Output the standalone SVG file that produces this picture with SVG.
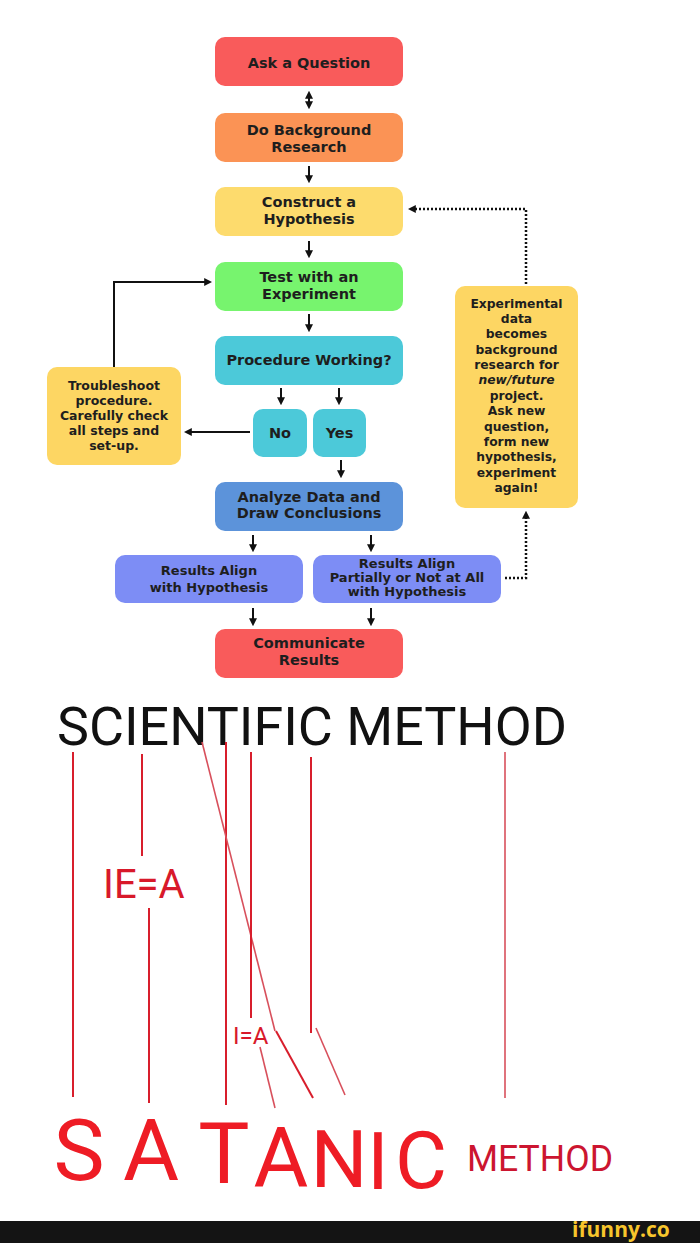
<svg xmlns="http://www.w3.org/2000/svg" width="700" height="1243" viewBox="0 0 700 1243">
<defs>
<marker id="ah" viewBox="0 0 10 10" refX="1" refY="5" markerWidth="8" markerHeight="8" markerUnits="userSpaceOnUse" orient="auto-start-reverse"><path d="M0,0 L10,5 L0,10 z" fill="#111"/></marker>
</defs>
<style>
.t{font-family:"DejaVu Sans",Verdana,sans-serif;font-weight:bold;fill:#1e1e1e;text-anchor:middle}
.m{font-size:14.5px}
.s{font-size:12.5px}
.x{font-size:13px}
.e{font-size:12.3px}
.c{stroke:#111;stroke-width:2;fill:none}
.a{stroke:#111;stroke-width:2;fill:none;marker-end:url(#ah)}
.d{stroke:#111;stroke-width:2.5;fill:none;stroke-dasharray:2 2;marker-end:url(#ah)}
.r{stroke:#d81e2c;stroke-width:2;fill:none}
.rf{stroke:#d8505c;stroke-width:1.6;fill:none}
.big{font-family:Roboto,"Liberation Sans",sans-serif}
.sat{font-family:Roboto,"Liberation Sans",sans-serif;fill:#ee1c25;text-anchor:middle}
</style>
<rect width="700" height="1243" fill="#fff"/>

<g id="ask"><rect x="215" y="37" width="188" height="49" rx="10" fill="#f95b5b"/><text class="t m" x="309" y="68">Ask a Question</text></g>
<g id="background"><rect x="215" y="113" width="188" height="49" rx="10" fill="#fb9355"/><text class="t m" x="309" y="135">Do Background</text><text class="t m" x="309" y="152">Research</text></g>
<g id="hypothesis"><rect x="215" y="187" width="188" height="49" rx="10" fill="#fddb6d"/><text class="t m" x="309" y="207">Construct a</text><text class="t m" x="309" y="224">Hypothesis</text></g>
<g id="test"><rect x="215" y="262" width="188" height="49" rx="10" fill="#77f46e"/><text class="t m" x="309" y="282">Test with an</text><text class="t m" x="309" y="299">Experiment</text></g>
<g id="procedure"><rect x="215" y="336" width="188" height="49" rx="10" fill="#4cc9d9"/><text class="t m" x="309" y="365">Procedure Working?</text></g>
<g id="no"><rect x="253" y="409" width="54" height="48" rx="10" fill="#4cc9d9"/><text class="t m" x="280" y="438">No</text></g>
<g id="yes"><rect x="313" y="409" width="53" height="48" rx="10" fill="#4cc9d9"/><text class="t m" x="339.5" y="438">Yes</text></g>
<g id="troubleshoot"><rect x="47" y="367" width="134" height="98" rx="10" fill="#fdd663"/>
<text class="t s" x="114" y="390">Troubleshoot</text><text class="t s" x="114" y="405">procedure.</text><text class="t s" x="114" y="420">Carefully check</text><text class="t s" x="114" y="435">all steps and</text><text class="t s" x="114" y="450">set-up.</text></g>
<g id="analyze"><rect x="215" y="482" width="188" height="49" rx="10" fill="#5c93da"/><text class="t m" x="309" y="502">Analyze Data and</text><text class="t m" x="309" y="518">Draw Conclusions</text></g>
<g id="results-align"><rect x="115" y="555" width="188" height="48" rx="10" fill="#7d8df5"/><text class="t x" x="209" y="575">Results Align</text><text class="t x" x="209" y="592">with Hypothesis</text></g>
<g id="results-partial"><rect x="313" y="555" width="188" height="48" rx="10" fill="#7d8df5"/><text class="t x" x="407" y="568">Results Align</text><text class="t x" x="407" y="582">Partially or Not at All</text><text class="t x" x="407" y="596">with Hypothesis</text></g>
<g id="communicate"><rect x="215" y="629" width="188" height="49" rx="10" fill="#f95b5b"/><text class="t m" x="309" y="648">Communicate</text><text class="t m" x="309" y="665">Results</text></g>
<g id="experimental"><rect x="455" y="286" width="123" height="222" rx="10" fill="#fdd663"/>
<text class="t e" x="516.5" y="308">Experimental</text>
<text class="t e" x="516.5" y="323">data</text>
<text class="t e" x="516.5" y="338">becomes</text>
<text class="t e" x="516.5" y="354">background</text>
<text class="t e" x="516.5" y="369">research for</text>
<text class="t e" x="516.5" y="384" font-style="italic">new/future</text>
<text class="t e" x="516.5" y="400">project.</text>
<text class="t e" x="516.5" y="415">Ask new</text>
<text class="t e" x="516.5" y="431">question,</text>
<text class="t e" x="516.5" y="446">form new</text>
<text class="t e" x="516.5" y="461">hypothesis,</text>
<text class="t e" x="516.5" y="477">experiment</text>
<text class="t e" x="516.5" y="492">again!</text></g>

<g id="connectors">
<line class="c" x1="309" y1="98" x2="309" y2="102" marker-start="url(#ah)" marker-end="url(#ah)"/>
<line class="a" x1="309" y1="166" x2="309" y2="176"/>
<line class="a" x1="309" y1="241" x2="309" y2="251"/>
<line class="a" x1="309" y1="314" x2="309" y2="325"/>
<line class="a" x1="281" y1="388" x2="281" y2="398"/>
<line class="a" x1="339" y1="388" x2="339" y2="398"/>
<line class="a" x1="341" y1="460" x2="341" y2="471"/>
<line class="a" x1="253" y1="535" x2="253" y2="545"/>
<line class="a" x1="371" y1="535" x2="371" y2="545"/>
<line class="a" x1="253" y1="608" x2="253" y2="619"/>
<line class="a" x1="371" y1="608" x2="371" y2="619"/>
<path class="a" d="M114,367 V282 H205"/>
<path class="a" d="M250,432 H191"/>
<path class="d" d="M526,284 V209 H415"/>
<path class="d" d="M505,578 H526 V518"/>
</g>

<g id="meme">
<text class="big" x="57" y="745" font-size="54" textLength="510" lengthAdjust="spacingAndGlyphs" fill="#111">SCIENTIFIC METHOD</text>
<line class="r" x1="73" y1="752" x2="73" y2="1097"/>
<line class="r" x1="142" y1="754" x2="142" y2="856"/>
<line class="r" x1="149" y1="908" x2="149" y2="1103"/>
<line class="r" x1="226" y1="742" x2="226" y2="1105"/>
<line class="rf" x1="202" y1="742" x2="275" y2="1031"/>
<line class="r" x1="251" y1="752" x2="251" y2="1018"/>
<line class="r" x1="311" y1="757" x2="311" y2="1033"/>
<line class="r" x1="276" y1="1031" x2="313" y2="1098"/>
<line class="rf" x1="316" y1="1028" x2="345" y2="1095"/>
<line class="rf" x1="260" y1="1047" x2="275" y2="1108"/>
<line class="rf" x1="505" y1="752" x2="505" y2="1098"/>
<text class="big" x="103" y="898" font-size="40" fill="#d8192a">IE=A</text>
<text class="big" x="233" y="1044" font-size="24" fill="#d8192a">I=A</text>
<text class="sat" x="79" y="1180" font-size="86">S</text>
<text class="sat" x="151" y="1180" font-size="86">A</text>
<text class="sat" x="224" y="1183" font-size="86">T</text>
<text class="sat" x="281" y="1187" font-size="84">A</text>
<text class="sat" x="339" y="1187" font-size="80">N</text>
<text class="sat" x="378" y="1189" font-size="80">I</text>
<text class="sat" x="421" y="1188" font-size="80">C</text>
<text class="big" x="467" y="1171" font-size="36" textLength="146" lengthAdjust="spacingAndGlyphs" fill="#cc1530">METHOD</text>
</g>

<g id="footer">
<rect x="0" y="1221" width="700" height="22" fill="#141414"/>
<text x="572" y="1237" font-family="'Open Sans','DejaVu Sans',sans-serif" font-weight="bold" font-size="21" fill="#f7c52c">ifunny.co</text>
</g>
</svg>
